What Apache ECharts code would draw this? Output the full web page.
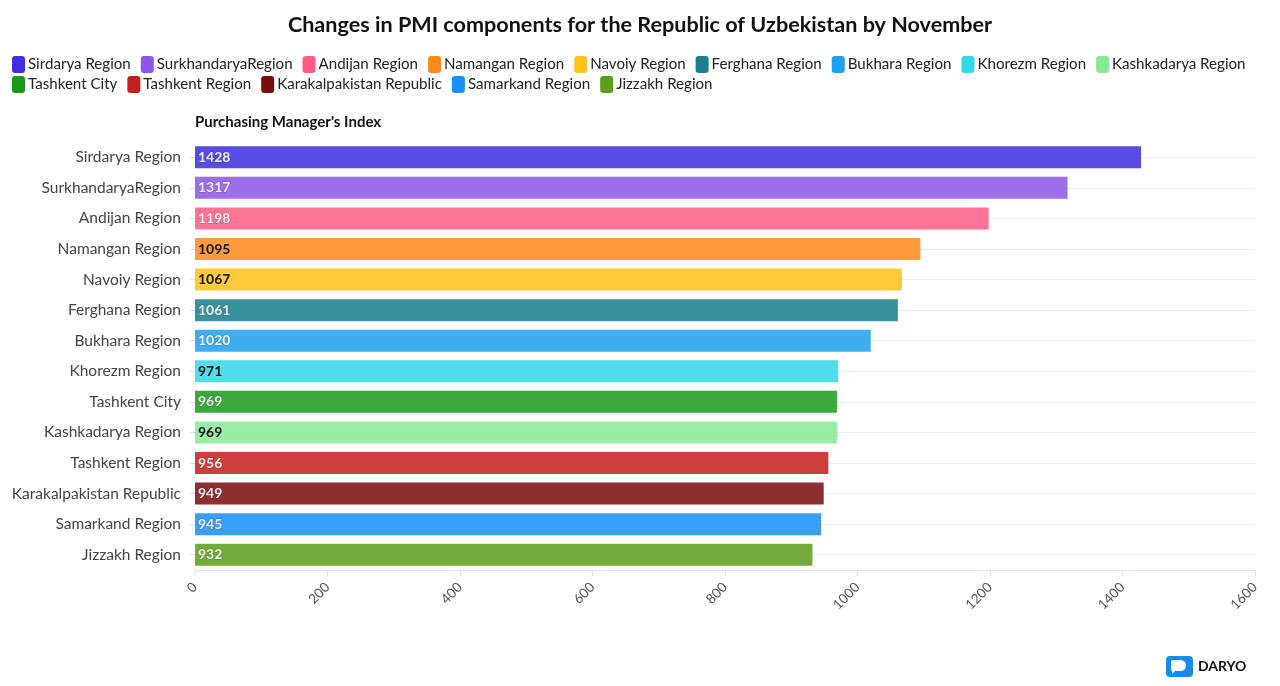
<!DOCTYPE html>
<html>
<head>
<meta charset="utf-8">
<script src="https://cdn.jsdelivr.net/npm/echarts@6/dist/echarts.min.js"></script>
<style>
html,body{margin:0;padding:0;background:#fff;}
#chart{width:1280px;height:686px;}
</style>
</head>
<body>
<div id="chart"></div>
<script>
// Bar order (top to bottom)
const categories = ['Sirdarya Region','SurkhandaryaRegion','Andijan Region','Namangan Region','Navoiy Region','Ferghana Region','Bukhara Region','Khorezm Region','Tashkent City','Kashkadarya Region','Tashkent Region','Karakalpakistan Republic','Samarkand Region','Jizzakh Region'];
const values = [1428,1317,1198,1095,1067,1061,1020,971,969,969,956,949,945,932];
// Legend / series order
const legendRow1 = ['Sirdarya Region','SurkhandaryaRegion','Andijan Region','Namangan Region','Navoiy Region','Ferghana Region','Bukhara Region','Khorezm Region','Kashkadarya Region'];
const legendRow2 = ['Tashkent City','Tashkent Region','Karakalpakistan Republic','Samarkand Region','Jizzakh Region'];
const seriesColors = ['#3d2ee0','#8e55e6','#ff5c85','#ff8a1a','#ffc21a','#1a7f8e','#1fa0ee','#33d9e6','#87e996','#1a9a1a','#c41f1f','#780d0d','#1a8ff7','#5c9e1a'];
const darkLabelSeries = ['Namangan Region','Navoiy Region','Khorezm Region','Kashkadarya Region'];
const xTicks = [0,200,400,600,800,1000,1200,1400,1600];

const FONT = 'Lato, "Noto Sans", sans-serif';
const legendOrder = legendRow1.concat(legendRow2);

const series = legendOrder.map(function (name, i) {
  const idx = categories.indexOf(name);
  const data = categories.map(function (c, j) { return j === idx ? values[idx] : '-'; });
  const dark = darkLabelSeries.indexOf(name) >= 0;
  return {
    name: name,
    type: 'bar',
    stack: 'all',
    barWidth: 22,
    data: data,
    itemStyle: { color: seriesColors[i], opacity: 0.86 },
    label: {
      show: true,
      position: 'insideLeft',
      distance: 3,
      fontFamily: FONT,
      fontWeight: 900,
      fontSize: 14,
      color: dark ? '#000' : '#fff',
      textBorderColor: dark ? 'rgba(255,255,255,0.3)' : 'rgba(0,0,0,0.3)',
      textBorderWidth: 1
    },
    emphasis: { disabled: true }
  };
});

const legendBase = {
  icon: 'roundRect',
  itemWidth: 13,
  itemHeight: 17,
  itemGap: 10,
  left: 7,
  orient: 'horizontal',
  itemStyle: { opacity: 1 },
  textStyle: { fontFamily: FONT, fontSize: 15.1, color: '#222', padding: [0, 0, 0, -2] },
  selectedMode: false
};

const chart = echarts.init(document.getElementById('chart'), null, { renderer: 'canvas' });
chart.setOption({
  backgroundColor: '#fff',
  animation: false,
  title: [
    {
      text: 'Changes in PMI components for the Republic of Uzbekistan by November',
      left: 'center',
      top: 9,
      textStyle: { fontFamily: FONT, fontSize: 21.6, fontWeight: 'bold', color: '#111' }
    },
    {
      text: "Purchasing Manager's Index",
      left: 190,
      top: 110,
      textStyle: { fontFamily: FONT, fontSize: 15, fontWeight: 'bold', color: '#111' }
    }
  ],
  legend: [
    Object.assign({}, legendBase, { top: 51, data: legendRow1 }),
    Object.assign({}, legendBase, { top: 71, data: legendRow2 })
  ],
  grid: { left: 195, right: 25, top: 142, bottom: 116, containLabel: false },
  xAxis: {
    type: 'value',
    min: 0,
    max: 1600,
    interval: 200,
    axisLine: { show: true, lineStyle: { color: '#e8e0e0' } },
    axisTick: { show: true, length: 6, lineStyle: { color: '#e8e0e0' } },
    splitLine: { show: false },
    axisLabel: {
      rotate: 45,
      margin: 15,
      fontFamily: FONT,
      fontSize: 13.5,
      color: '#555',
      formatter: function (v) { return xTicks.indexOf(v) >= 0 ? String(v) : ''; }
    }
  },
  yAxis: {
    type: 'category',
    inverse: true,
    data: categories,
    axisLine: { show: false },
    axisTick: { show: true, alignWithLabel: true, length: 5, lineStyle: { color: '#ddd' } },
    splitLine: { show: true, alignWithLabel: true, lineStyle: { color: '#ececec', width: 1 } },
    axisLabel: { margin: 14, fontFamily: FONT, fontSize: 15.5, color: '#444' }
  },
  graphic: [
    {
      type: 'group',
      left: 1166,
      top: 656,
      children: [
        { type: 'rect', shape: { x: 0, y: 0, width: 27, height: 21, r: 4 }, style: { fill: '#1a8ae6' } },
        { type: 'rect', shape: { x: 5, y: 4, width: 15, height: 11, r: [2, 6, 6, 2] }, style: { fill: '#fff' } },
        { type: 'polygon', shape: { points: [[6, 14], [10, 14], [6, 18]] }, style: { fill: '#fff' } },
        { type: 'text', style: { x: 32, y: 3, text: 'DARYO', fill: '#111', font: 'bold 14px ' + FONT } }
      ]
    }
  ],
  series: series
});
</script>
</body>
</html>
